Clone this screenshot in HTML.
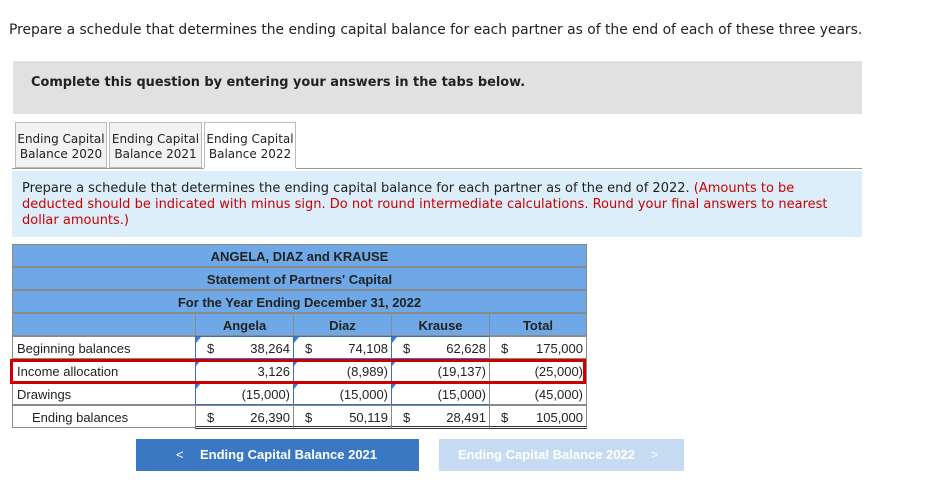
<!DOCTYPE html>
<html><head><meta charset="utf-8"><style>
body{margin:0;width:946px;height:491px;background:#fff;position:relative;font-family:"Liberation Sans",Arial,sans-serif;color:#222;overflow:hidden}
div{position:absolute;box-sizing:border-box}
.v{font-family:"DejaVu Sans",Verdana,sans-serif}
.tab{top:122px;height:46px;border:1px solid #bbb;background:#f2f2f2;font-size:12px;text-align:center;line-height:15px;padding-top:9px;font-family:"DejaVu Sans",sans-serif}
.hr{left:12px;width:575px;height:23px;background:#6fa8e6;border:1px solid #8a8a8a;font-weight:bold;font-size:13px;text-align:center;line-height:23px}
.c{height:23px;border:1px solid #8a8a8a;font-size:13px;line-height:23px}
.n{text-align:right;padding-right:3px}
.d{position:absolute;left:11px;top:0}
.in{border:1px solid #3a6fb5}
.tri{position:absolute;left:0;top:0;width:0;height:0;border-top:6px solid #3a7bd5;border-right:5px solid transparent}
</style></head><body>
<div class="v" style="left:9px;top:22px;font-size:13.85px;">Prepare a schedule that determines the ending capital balance for each partner as of the end of each of these three years.</div>
<div class="v" style="left:13px;top:61px;width:849px;height:53px;background:#e1e1e1;font-weight:bold;font-size:12.9px;padding:14px 0 0 18px">Complete this question by entering your answers in the tabs below.</div>
<div class="tab" style="left:15px;width:92px">Ending Capital<br>Balance 2020</div>
<div class="tab" style="left:109px;width:93px">Ending Capital<br>Balance 2021</div>
<div class="tab" style="left:204px;width:92px;height:47px;background:#fff;border-bottom:none">Ending Capital<br>Balance 2022</div>
<div style="left:12px;top:168px;width:850px;height:1px;background:#999"></div>
<div style="left:204px;top:168px;width:92px;height:1px;background:#fff"></div>
<div class="v" style="left:12px;top:171px;width:850px;height:66px;background:#dbeefa;font-size:13px;line-height:16px;padding:10px 14px 0 10px">Prepare a schedule that determines the ending capital balance for each partner as of the end of 2022. <span style="color:#c00">(Amounts to be deducted should be indicated with minus sign. Do not round intermediate calculations. Round your final answers to nearest dollar amounts.)</span></div>

<div class="hr" style="top:244px">ANGELA, DIAZ and KRAUSE</div>
<div class="hr" style="top:267px">Statement of Partners' Capital</div>
<div class="hr" style="top:290px">For the Year Ending December 31, 2022</div>
<div class="hr" style="top:313px;width:184px"></div>
<div class="hr" style="top:313px;left:195px;width:99px">Angela</div>
<div class="hr" style="top:313px;left:293px;width:99px">Diaz</div>
<div class="hr" style="top:313px;left:391px;width:99px">Krause</div>
<div class="hr" style="top:313px;left:489px;width:98px">Total</div>
<div id="rows"></div>
<div style="left:10px;top:359px;width:576px;height:25px;border:3px solid #c00"></div>

<div style="left:136px;top:439px;width:283px;height:32px;background:#3b78c3;color:#fff;font-weight:bold;font-size:13px;line-height:32px;padding-left:40px"><span style="position:absolute;left:40px;font-weight:normal">&lt;</span><span style="margin-left:24px">Ending Capital Balance 2021</span></div>
<div style="left:439px;top:439px;width:245px;height:32px;background:#c5dbf1;color:#fff;font-weight:bold;font-size:13px;line-height:32px;padding-left:19px">Ending Capital Balance 2022 <span style="font-weight:normal;margin-left:12px">&gt;</span></div>
<script>
const labels=["Beginning balances","Income allocation","Drawings","Ending balances"];
const angela=["38,264","3,126","(15,000)","26,390"];
const diaz=["74,108","(8,989)","(15,000)","50,119"];
const krause=["62,628","(19,137)","(15,000)","28,491"];
const total=["175,000","(25,000)","(45,000)","105,000"];
const cols=[angela,diaz,krause,total];
const names=["angela","diaz","krause","total"];
const R=document.getElementById('rows');
labels.forEach((l,i)=>{
 const top=336+i*23;
 const lc=document.createElement('div');
 
 
 lc.className='c';lc.style.cssText=`left:12px;top:${top}px;width:184px;padding-left:${i==3?19:4}px`;
 lc.textContent=l;R.appendChild(lc);
 cols.forEach((arr,j)=>{
  const c=document.createElement('div');
  
  
  const dollar=(i==0||i==3);
  const inp=(j<3&&i<3);
  c.className='c n'+(inp?' in':'');
  c.style.cssText=`left:${195+j*98}px;top:${top}px;width:${j==3?98:99}px`+(i==3?';border-bottom:3px double #333;height:24px':'');
  c.innerHTML=(inp?'<span class="tri"></span>':'')+(dollar?'<span class="d">$</span>':'')+arr[i];
  R.appendChild(c);
 });
});
</script>
</body></html>
